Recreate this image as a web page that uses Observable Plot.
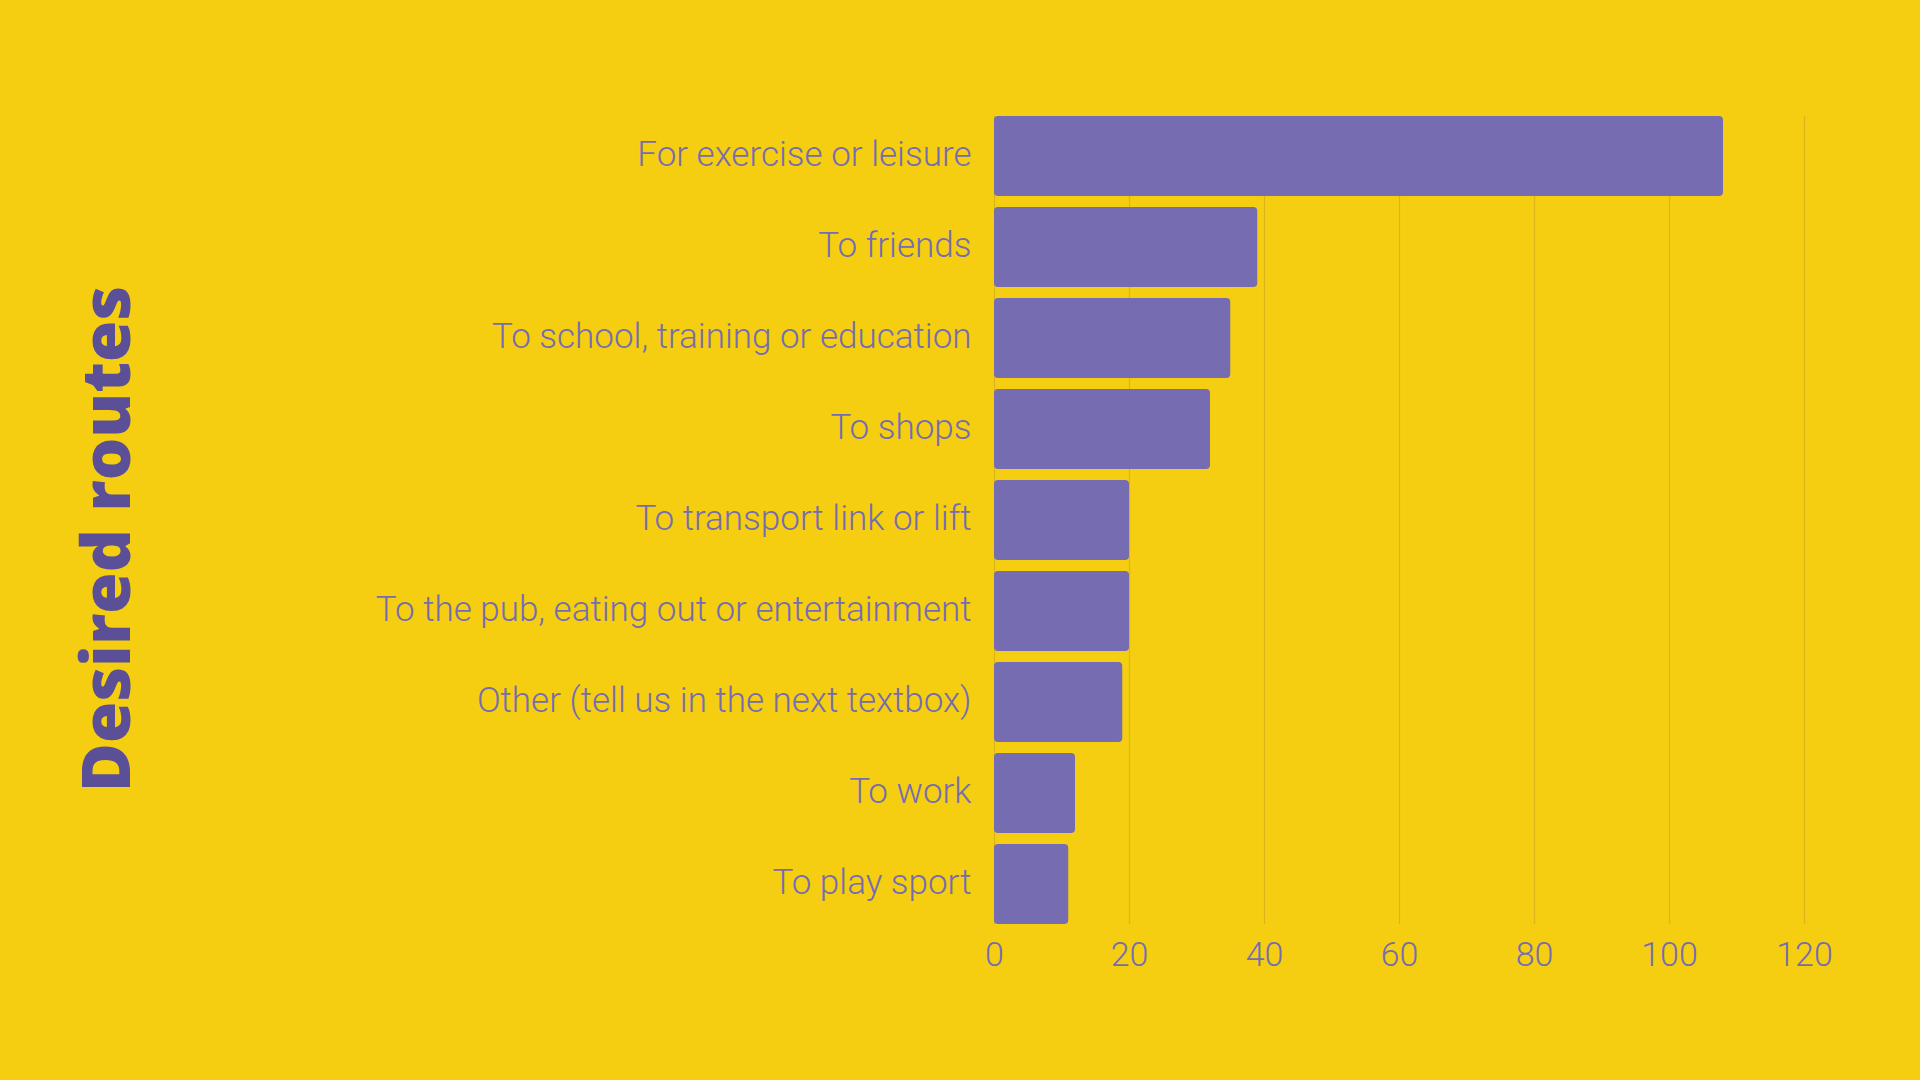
<!DOCTYPE html>
<html>
<head>
<meta charset="utf-8">
<script src="https://cdn.jsdelivr.net/npm/d3@7"></script>
<script src="https://cdn.jsdelivr.net/npm/@observablehq/plot@0.6"></script>
<style>
  html, body { margin: 0; padding: 0; background: #F6CE11; }
  #wrap { position: relative; width: 1920px; height: 1080px; background: #F6CE11; overflow: hidden; }
  #wrap svg { position: absolute; left: 0; top: 0; }
  #title {
    position: absolute; left: 104px; top: 539px;
    transform: translate(-50%, -50%) rotate(-90deg);
    font-family: "Open Sans", sans-serif; font-weight: 800; font-size: 67px;
    color: #5B5098; white-space: nowrap; letter-spacing: 0px;
  }
</style>
</head>
<body>
<div id="wrap"><div id="title">Desired routes</div></div>
<script>
const categories = [
  "For exercise or leisure",
  "To friends",
  "To school, training or education",
  "To shops",
  "To transport link or lift",
  "To the pub, eating out or entertainment",
  "Other (tell us in the next textbox)",
  "To work",
  "To play sport"
];
const counts = [108, 39, 35, 32, 20, 20, 19, 12, 11];
const xTicks = [0, 20, 40, 60, 80, 100, 120];

const data = categories.map((c, i) => ({category: c, count: counts[i]}));

const chart = Plot.plot({
  width: 1920,
  height: 1080,
  marginLeft: 994,
  marginRight: 116,
  marginTop: 116,
  marginBottom: 156,
  style: {background: "transparent", fontFamily: "Roboto, sans-serif", fontSize: "35px", fontWeight: 300, color: "#756CB2"},
  x: {domain: [0, 120], ticks: xTicks, label: null},
  y: {domain: categories, paddingInner: 0.125, paddingOuter: 0, label: null},
  marks: [
    Plot.ruleX(xTicks, {stroke: "#D9B51A", strokeWidth: 1.2, strokeOpacity: 1}),
    Plot.barX(data, {x: "count", y: "category", fill: "#756CB2", rx: 4}),
    Plot.axisY({tickSize: 0, tickPadding: 23, dy: -2, fontSize: 35, fontWeight: 300, fill: "#756CB2", label: null}),
    Plot.axisX({ticks: xTicks, tickSize: 0, tickPadding: 17, fontSize: 34, fontWeight: 300, fill: "#756CB2", label: null})
  ]
});
document.getElementById("wrap").appendChild(chart);
</script>
</body>
</html>
